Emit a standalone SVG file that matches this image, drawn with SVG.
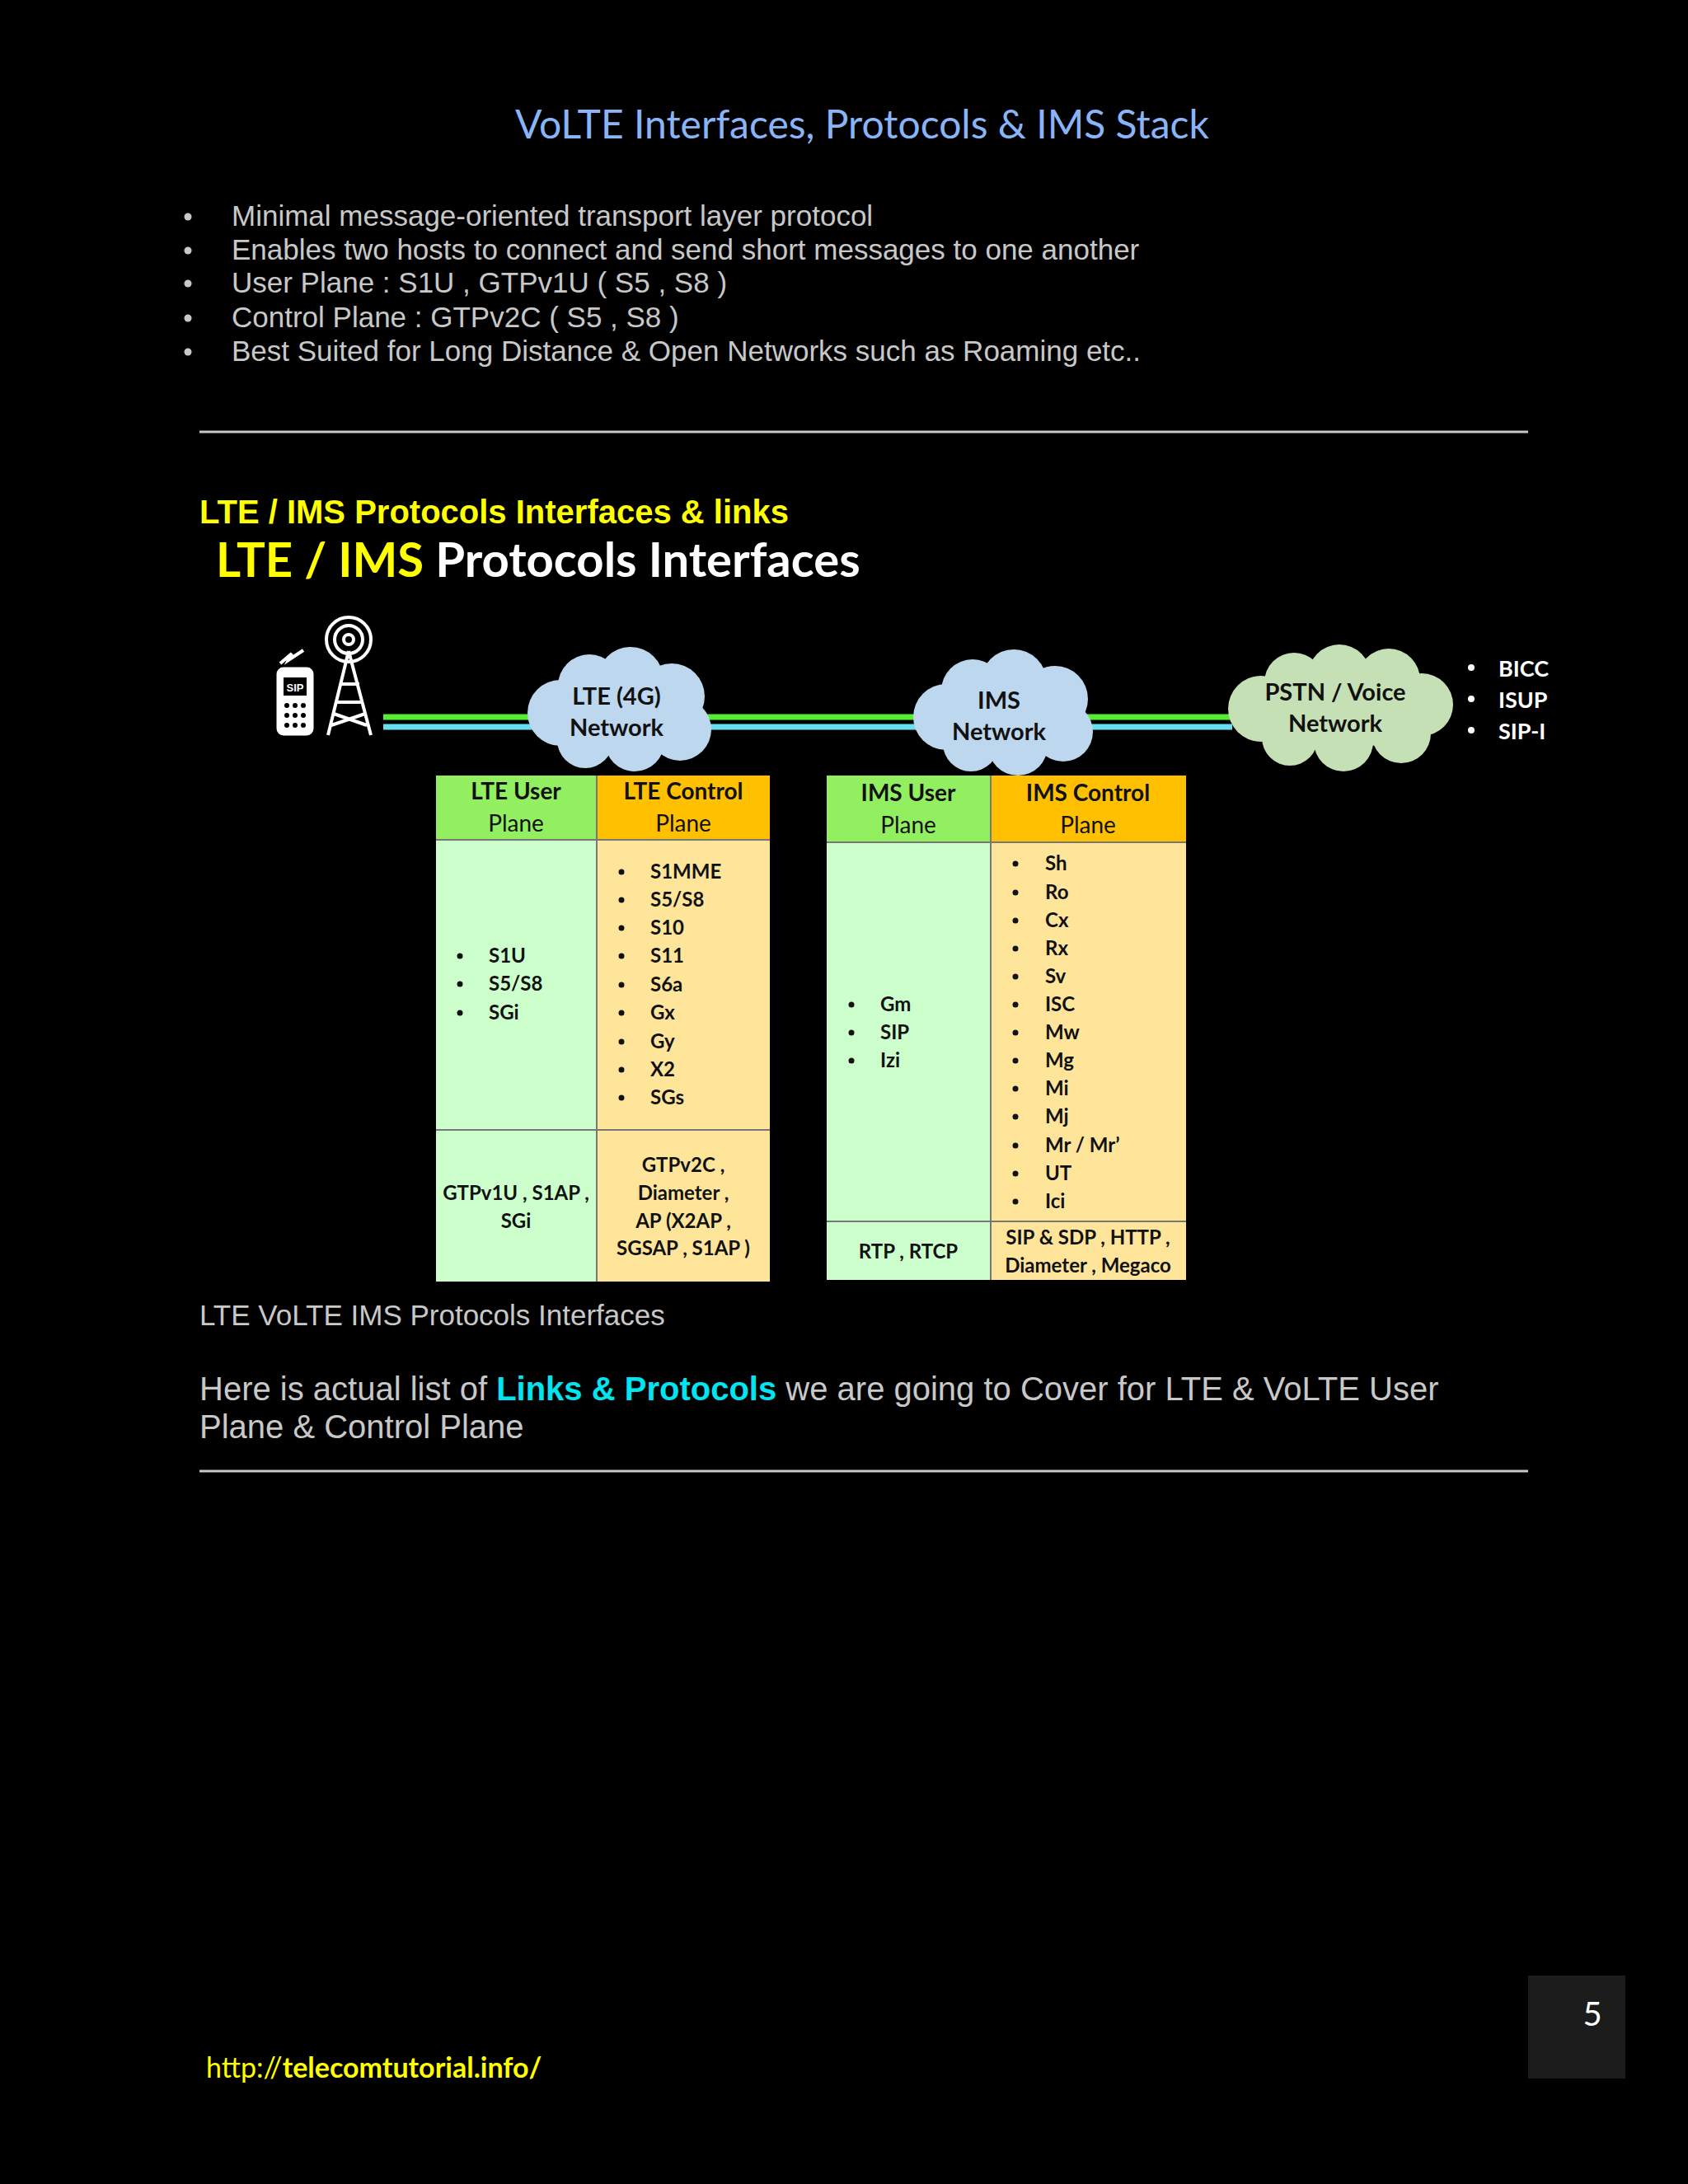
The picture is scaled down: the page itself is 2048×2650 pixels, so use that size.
<svg xmlns="http://www.w3.org/2000/svg" width="2048" height="2650" viewBox="0 0 2048 2650">
<style>
.t{font-family:"Liberation Sans",Arial,sans-serif}
.bl{font-family:"Liberation Sans",Arial,sans-serif;font-size:35px;fill:#c8c8c8}
.c{font-family:Lato,"Open Sans",sans-serif}
.cell{font-family:Lato,"Open Sans",sans-serif;font-size:24px;font-weight:bold;fill:#111}
.hd{font-family:Lato,"Open Sans",sans-serif;font-size:28px;fill:#111;text-anchor:middle}
.cl{font-family:Lato,"Open Sans",sans-serif;font-size:29px;font-weight:bold;fill:#111;text-anchor:middle}
.mid{text-anchor:middle}
</style>
<rect width="2048" height="2650" fill="#000"/>
<text x="1046" y="168" class="c mid" font-size="48" fill="#8ab4f8">VoLTE Interfaces, Protocols &amp; IMS Stack</text>
<g id="bullets">
<g fill="#c8c8c8"><circle cx="228" cy="263" r="4.5"/><circle cx="228" cy="304" r="4.5"/><circle cx="228" cy="344" r="4.5"/><circle cx="228" cy="386" r="4.5"/><circle cx="228" cy="427" r="4.5"/></g>
<text class="bl" x="281" y="274">Minimal message-oriented transport layer protocol</text>
<text class="bl" x="281" y="315">Enables two hosts to connect and send short messages to one another</text>
<text class="bl" x="281" y="355">User Plane : S1U , GTPv1U ( S5 , S8 )</text>
<text class="bl" x="281" y="397">Control Plane : GTPv2C ( S5 , S8 )</text>
<text class="bl" x="281" y="438">Best Suited for Long Distance &amp; Open Networks such as Roaming etc..</text>
</g>
<line x1="242" y1="524" x2="1854" y2="524" stroke="#c8c8c8" stroke-width="3"/>
<text x="242" y="635" class="t" font-size="40" font-weight="bold" fill="#ffff00">LTE / IMS Protocols Interfaces &amp; links</text>
<text x="262" y="700" class="c" font-size="58" font-weight="bold" fill="#fff"><tspan fill="#ffff00">LTE / IMS</tspan> Protocols Interfaces</text>
<g id="connectors">
<line x1="465" y1="870" x2="1495" y2="870" stroke="#55ee33" stroke-width="7"/>
<line x1="465" y1="882" x2="1495" y2="882" stroke="#66e0f0" stroke-width="7"/>
</g>
<g id="device" fill="none" stroke="#fff" stroke-width="5">
<rect x="338" y="812" width="40" height="78" rx="6" fill="#fff"/>
<rect x="344" y="822" width="28" height="22" fill="#000" stroke="none"/>
<text x="358" y="839" class="t mid" font-size="13" font-weight="bold" fill="#fff" stroke="none">SIP</text>
<g fill="#000" stroke="none"><circle cx="348" cy="856" r="3"/><circle cx="358" cy="856" r="3"/><circle cx="368" cy="856" r="3"/><circle cx="348" cy="868" r="3"/><circle cx="358" cy="868" r="3"/><circle cx="368" cy="868" r="3"/><circle cx="348" cy="880" r="3"/><circle cx="358" cy="880" r="3"/><circle cx="368" cy="880" r="3"/></g>
<path d="M340 805 l14 -12 l-4 8 l18 -12" stroke-width="4"/>
<circle cx="423" cy="776" r="27" stroke-width="4"/><circle cx="423" cy="776" r="17" stroke-width="4"/><circle cx="423" cy="776" r="6" stroke-width="4"/>
<path d="M423 790 L398 892 M423 790 L450 892 M408 852 L440 852 M412 830 L436 830 M405 866 L445 880 M443 866 L402 880" stroke-width="4"/>
</g>
<g id="cloud-lte">
<g fill="#bdd7ee"><circle cx="680" cy="865" r="40"/><circle cx="715" cy="832" r="38"/><circle cx="765" cy="825" r="40"/><circle cx="815" cy="845" r="40"/><circle cx="825" cy="885" r="38"/><circle cx="770" cy="900" r="36"/><circle cx="710" cy="898" r="34"/><ellipse cx="752" cy="864" rx="95" ry="48"/></g>
<text class="cl" x="748" y="855">LTE (4G)</text><text class="cl" x="748" y="893">Network</text>
</g>
<g id="cloud-ims">
<g fill="#bdd7ee"><circle cx="1148" cy="870" r="40"/><circle cx="1180" cy="838" r="38"/><circle cx="1230" cy="828" r="40"/><circle cx="1280" cy="848" r="40"/><circle cx="1290" cy="888" r="36"/><circle cx="1235" cy="905" r="36"/><circle cx="1178" cy="902" r="34"/><ellipse cx="1217" cy="867" rx="95" ry="48"/></g>
<text class="cl" x="1212" y="860">IMS</text><text class="cl" x="1212" y="898">Network</text>
</g>
<g id="cloud-pstn">
<g fill="#c5e0b4"><circle cx="1530" cy="860" r="40"/><circle cx="1570" cy="828" r="36"/><circle cx="1625" cy="820" r="38"/><circle cx="1685" cy="825" r="38"/><circle cx="1725" cy="855" r="38"/><circle cx="1700" cy="890" r="36"/><circle cx="1630" cy="900" r="36"/><circle cx="1565" cy="895" r="34"/><ellipse cx="1625" cy="860" rx="115" ry="48"/></g>
<text class="cl" x="1620" y="850">PSTN / Voice</text><text class="cl" x="1620" y="888">Network</text>
</g>
<g id="pstn-list" fill="#fff">
<circle cx="1785" cy="810" r="4"/><circle cx="1785" cy="848" r="4"/><circle cx="1785" cy="886" r="4"/>
<text class="c" x="1818" y="821" font-size="27" font-weight="bold">BICC</text>
<text class="c" x="1818" y="859" font-size="27" font-weight="bold">ISUP</text>
<text class="c" x="1818" y="897" font-size="27" font-weight="bold">SIP-I</text>
</g>
<g id="table-lte">
<rect x="529" y="941" width="195" height="78" fill="#92f060"/>
<rect x="724" y="941" width="210" height="78" fill="#ffc000"/>
<rect x="529" y="1019" width="195" height="536" fill="#ccffcc"/>
<rect x="724" y="1019" width="210" height="536" fill="#ffe59a"/>
<g stroke="#777" stroke-width="2"><line x1="724" y1="941" x2="724" y2="1555"/><line x1="529" y1="1371" x2="934" y2="1371"/><line x1="529" y1="1019" x2="934" y2="1019"/></g>
<text class="hd" x="626" y="970" font-weight="bold">LTE User</text><text class="hd" x="626" y="1009">Plane</text>
<text class="hd" x="829" y="970" font-weight="bold">LTE Control</text><text class="hd" x="829" y="1009">Plane</text>
<g class="cell">
<circle cx="558" cy="1160" r="3.5"/><text x="593" y="1168">S1U</text>
<circle cx="558" cy="1194" r="3.5"/><text x="593" y="1202">S5/S8</text>
<circle cx="558" cy="1229" r="3.5"/><text x="593" y="1237">SGi</text>
<circle cx="754" cy="1058" r="3.5"/><text x="789" y="1066">S1MME</text>
<circle cx="754" cy="1092" r="3.5"/><text x="789" y="1100">S5/S8</text>
<circle cx="754" cy="1126" r="3.5"/><text x="789" y="1134">S10</text>
<circle cx="754" cy="1160" r="3.5"/><text x="789" y="1168">S11</text>
<circle cx="754" cy="1195" r="3.5"/><text x="789" y="1203">S6a</text>
<circle cx="754" cy="1229" r="3.5"/><text x="789" y="1237">Gx</text>
<circle cx="754" cy="1264" r="3.5"/><text x="789" y="1272">Gy</text>
<circle cx="754" cy="1298" r="3.5"/><text x="789" y="1306">X2</text>
<circle cx="754" cy="1332" r="3.5"/><text x="789" y="1340">SGs</text>
</g>
<g class="cell mid">
<text x="626" y="1456">GTPv1U , S1AP ,</text><text x="626" y="1490">SGi</text>
<text x="829" y="1422">GTPv2C ,</text><text x="829" y="1456">Diameter ,</text><text x="829" y="1490">AP (X2AP ,</text><text x="829" y="1523">SGSAP , S1AP )</text>
</g>
</g>
<g id="table-ims">
<rect x="1003" y="941" width="199" height="81" fill="#92f060"/>
<rect x="1202" y="941" width="237" height="81" fill="#ffc000"/>
<rect x="1003" y="1022" width="199" height="531" fill="#ccffcc"/>
<rect x="1202" y="1022" width="237" height="531" fill="#ffe59a"/>
<g stroke="#777" stroke-width="2"><line x1="1202" y1="941" x2="1202" y2="1553"/><line x1="1003" y1="1482" x2="1439" y2="1482"/><line x1="1003" y1="1022" x2="1439" y2="1022"/></g>
<text class="hd" x="1102" y="972" font-weight="bold">IMS User</text><text class="hd" x="1102" y="1011">Plane</text>
<text class="hd" x="1320" y="972" font-weight="bold">IMS Control</text><text class="hd" x="1320" y="1011">Plane</text>
<g class="cell">
<circle cx="1033" cy="1219" r="3.5"/><text x="1068" y="1227">Gm</text>
<circle cx="1033" cy="1253" r="3.5"/><text x="1068" y="1261">SIP</text>
<circle cx="1033" cy="1287" r="3.5"/><text x="1068" y="1295">Izi</text>
<circle cx="1232" cy="1048" r="3.5"/><text x="1268" y="1056">Sh</text>
<circle cx="1232" cy="1083" r="3.5"/><text x="1268" y="1091">Ro</text>
<circle cx="1232" cy="1117" r="3.5"/><text x="1268" y="1125">Cx</text>
<circle cx="1232" cy="1151" r="3.5"/><text x="1268" y="1159">Rx</text>
<circle cx="1232" cy="1185" r="3.5"/><text x="1268" y="1193">Sv</text>
<circle cx="1232" cy="1219" r="3.5"/><text x="1268" y="1227">ISC</text>
<circle cx="1232" cy="1253" r="3.5"/><text x="1268" y="1261">Mw</text>
<circle cx="1232" cy="1287" r="3.5"/><text x="1268" y="1295">Mg</text>
<circle cx="1232" cy="1321" r="3.5"/><text x="1268" y="1329">Mi</text>
<circle cx="1232" cy="1355" r="3.5"/><text x="1268" y="1363">Mj</text>
<circle cx="1232" cy="1390" r="3.5"/><text x="1268" y="1398">Mr / Mr’</text>
<circle cx="1232" cy="1424" r="3.5"/><text x="1268" y="1432">UT</text>
<circle cx="1232" cy="1458" r="3.5"/><text x="1268" y="1466">Ici</text>
</g>
<g class="cell mid">
<text x="1102" y="1527">RTP , RTCP</text>
<text x="1320" y="1510">SIP &amp; SDP , HTTP ,</text><text x="1320" y="1544">Diameter , Megaco</text>
</g>
</g>
<text x="242" y="1608" class="bl">LTE VoLTE IMS Protocols Interfaces</text>
<text x="242" y="1699" class="t" font-size="40" fill="#c8c8c8">Here is actual list of <tspan fill="#00e5f0" font-weight="bold">Links &amp; Protocols</tspan> we are going to Cover for LTE &amp; VoLTE User</text>
<text x="242" y="1745" class="t" font-size="40" fill="#c8c8c8">Plane &amp; Control Plane</text>
<line x1="242" y1="1785" x2="1854" y2="1785" stroke="#c8c8c8" stroke-width="3"/>
<rect x="1854" y="2397" width="118" height="125" fill="#1c1c1c"/>
<text x="1932" y="2458" class="c mid" font-size="40" fill="#fff">5</text>
<text x="250" y="2521" class="c" font-size="34" fill="#ffff00">http://<tspan font-weight="bold">telecomtutorial.info/</tspan></text>
</svg>
